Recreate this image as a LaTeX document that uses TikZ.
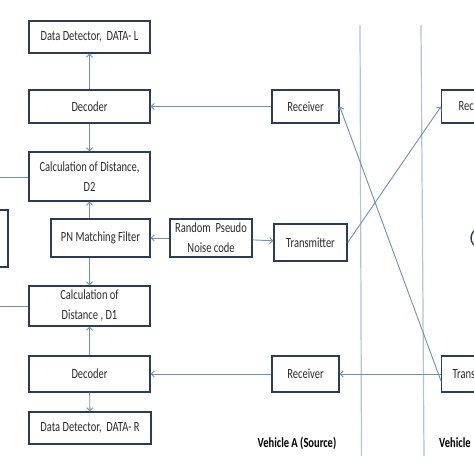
\documentclass[tikz,border=0pt]{standalone}
\usepackage{fontspec}
\newfontfamily\bodyfont{Carlito}[FakeStretch=0.75]
\usetikzlibrary{arrows.meta,shapes.geometric}
\definecolor{boxc}{HTML}{2E3B55}
\definecolor{linec}{HTML}{6F8FB8}
\definecolor{sepc}{HTML}{B3C1D6}
\definecolor{txtc}{HTML}{2B2B2B}
\newcommand{\fs}{\bodyfont\fontsize{14}{20}\selectfont}
\begin{document}
\begin{tikzpicture}[x=1pt,y=-1pt,
  box/.style={draw=boxc, line width=1.4pt, fill=white, text=txtc, align=center,
    inner sep=0pt, font=\fs},
  conn/.style={draw=linec, line width=0.9pt, -{Straight Barb[length=3pt,width=6pt]}},
  plain/.style={draw=linec, line width=0.9pt},
  sep/.style={draw=sepc, line width=1.2pt},
  lbl/.style={font=\fs\bfseries, text=black, inner sep=0pt}]
\useasboundingbox (0,0) rectangle (474,474);
\clip (0,0) rectangle (474,474);
\fill[white] (0,0) rectangle (474,474);
% separators
\coordinate (s1t) at (360,25); \coordinate (s1b) at (361.5,456);
\coordinate (s2t) at (421,25); \coordinate (s2b) at (424,456);
\draw[sep] (s1t) -- (s1b);
\draw[sep] (s2t) -- (s2b);
% left column
\node[box, minimum width=121pt, minimum height=32pt] (ddl) at (89.5,37) {Data Detector,\ \ DATA- L};
\node[box, minimum width=121pt, minimum height=33pt] (dec1) at (89.5,106.5) {Decoder};
\node[box, minimum width=121pt, minimum height=49pt] (cd2) at (89.5,176.5) {Calculation of Distance,\\D2};
\node[box, minimum width=99pt, minimum height=38pt] (pn) at (100.5,238) {PN Matching Filter};
\node[box, minimum width=82pt, minimum height=38pt] (rpn) at (211,238) {Random\ \ Pseudo\\Noise code};
\node[box, minimum width=121pt, minimum height=40pt] (cd1) at (89.5,306) {Calculation of\\Distance , D1};
\node[box, minimum width=121pt, minimum height=36pt] (dec2) at (89.5,374) {Decoder};
\node[box, minimum width=122pt, minimum height=32pt] (ddr) at (90,428) {Data Detector,\ \ DATA- R};
% left partial box
\node[box, minimum width=68pt, minimum height=57pt] (lft) at (-26,238.5) {};
\coordinate (l2) at (0,177);
\coordinate (l1) at (0,306);
% vehicle A
\node[box, minimum width=67pt, minimum height=33pt] (rxa1) at (305.5,106.5) {Receiver};
\node[box, minimum width=73pt, minimum height=37pt] (txa) at (310.5,242.5) {Transmitter};
\node[box, minimum width=67pt, minimum height=36pt] (rxa2) at (305.5,374) {Receiver};
% vehicle B (partly visible)
\node[box, anchor=west, minimum height=33pt, text width=33pt, inner xsep=17pt, align=left] (rxb) at (441,106.5) {Rec};
\node[box, anchor=west, minimum height=36pt, text width=51pt, inner xsep=11pt, align=left] (txb) at (441,374) {Trans};
\node[draw=boxc, line width=1.4pt, ellipse, minimum width=16pt, minimum height=18pt, inner sep=0pt] (obj) at (479,238) {};
% labels
\node[lbl] (va) at (297,443) {Vehicle A (Source)};
\node[lbl, anchor=west] (vb) at (439,443) {Vehicle};
% connectors
\draw[conn] (dec1) -- (ddl);
\draw[conn] (dec1) -- (cd2);
\draw[conn] (cd2.south |- pn.north) -- (cd2.south);
\draw[conn] (cd1.north |- pn.south) -- (cd1.north);
\draw[conn] (dec2) -- (cd1);
\draw[conn] (dec2) -- (ddr);
\draw[conn] (rpn) -- (pn);
\draw[conn] (rpn) -- (txa);
\draw[conn] (rxa1) -- (dec1);
\draw[conn] (rxa2) -- (dec2);
\draw[conn] (txb.west) -- (rxa2.east);
\draw[conn] (txa.east) -- (rxb.west);
\draw[conn] ([yshift=-7pt]txb.west) -- (rxa1.east);
\draw[plain] (l2) -- (l2 -| cd2.west);
\draw[plain] (l1) -- (l1 -| cd1.west);
\end{tikzpicture}
\end{document}
